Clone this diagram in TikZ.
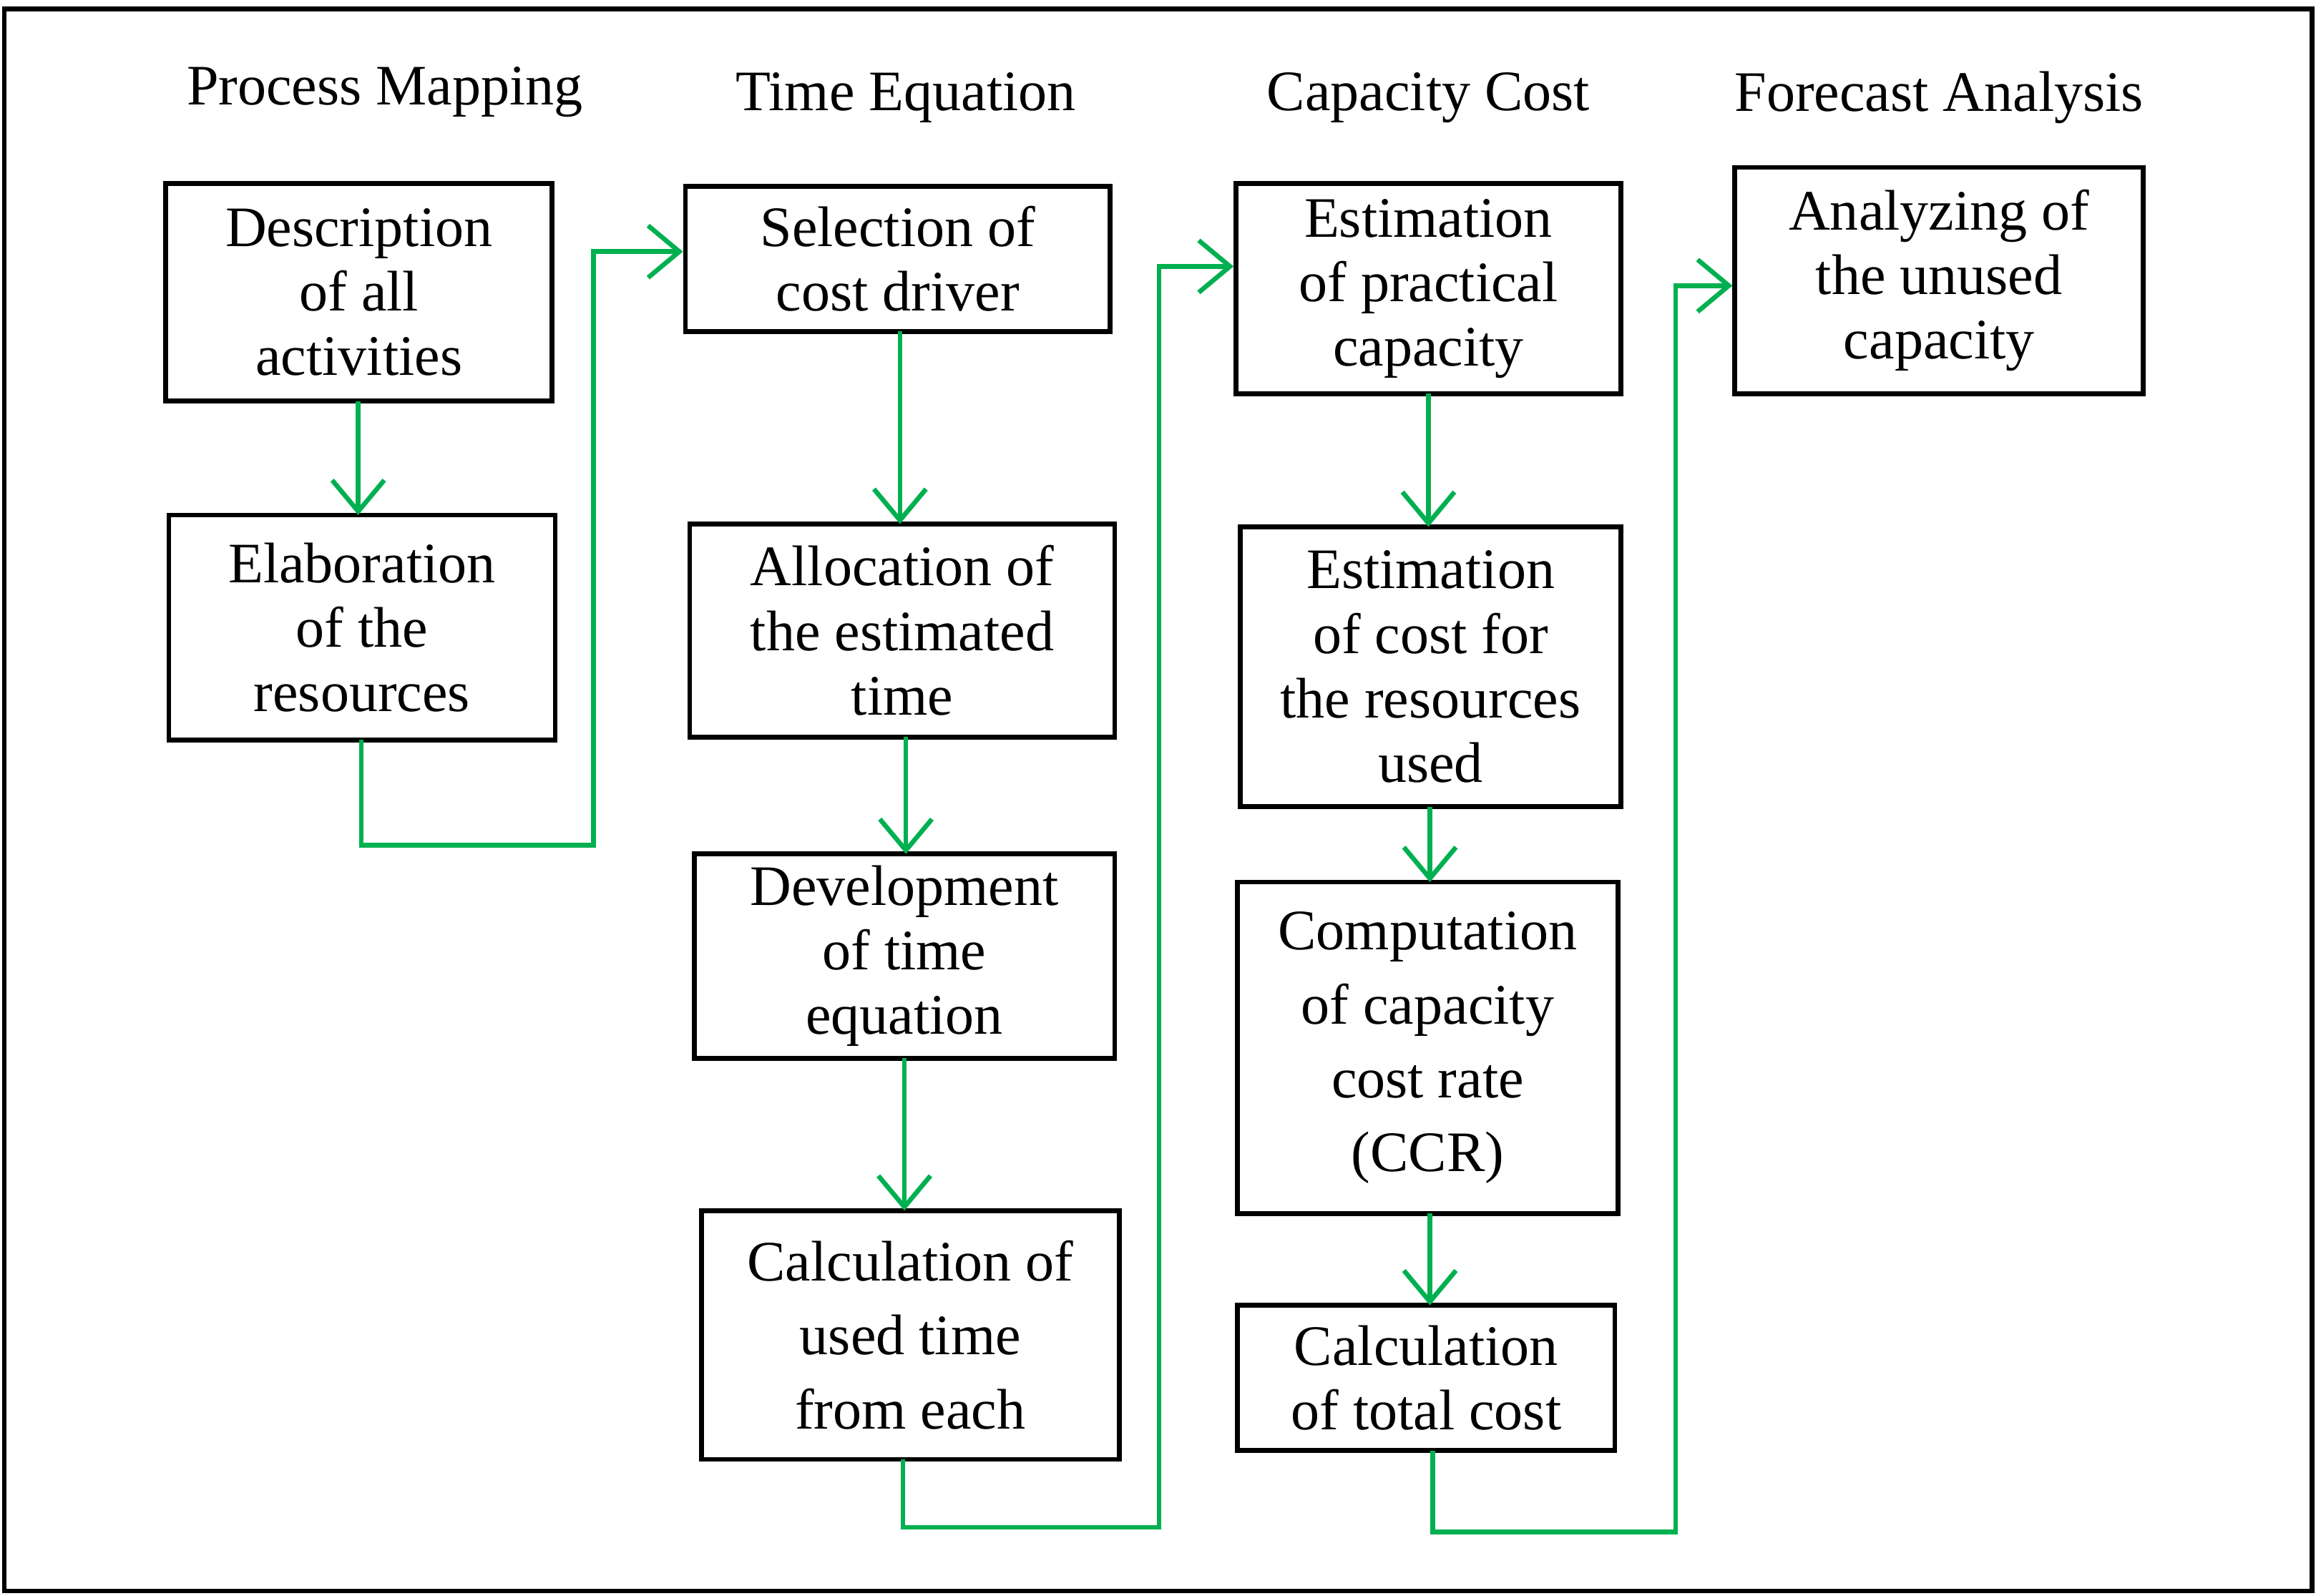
\documentclass[tikz,border=0pt]{standalone}
\usepackage{fontspec}
\setmainfont{Liberation Serif}
\usetikzlibrary{arrows.meta}
\definecolor{grn}{RGB}{0,176,80}
\begin{document}
\begin{tikzpicture}[x=0.01cm,y=-0.01cm,
 box/.style={draw,line width=0.9pt,align=center,inner sep=0pt,font=\fontsize{11}{12.4}\selectfont},
 hdr/.style={font=\fontsize{11}{13}\selectfont},
 con/.style={draw=grn,line width=0.9pt,-{Straight Barb[length=6pt,width=10pt]}}]
\useasboundingbox (0,0) rectangle (1568,1078);
\draw[line width=0.9pt] (3,6) rectangle (1562,1075);
\node[hdr] (h1) at (260,62) {Process Mapping};
\node[hdr] (h2) at (612,66) {Time Equation};
\node[hdr] (h3) at (965,66) {Capacity Cost};
\node[hdr] (h4) at (1310,66) {Forecast Analysis};
\newcommand{\bx}[6]{\node[box,minimum width={(#4-#2)*0.01cm},minimum height={(#5-#3)*0.01cm}] (#1) at ({(#2+#4)/2},{(#3+#5)/2}) {#6};}
\bx{b1}{112}{124}{373}{271}{Description\\of all\\activities}
\bx{b2}{114}{348}{375}{500}{Elaboration\\of the\\resources}
\bx{b3}{463}{126}{750}{224}{Selection of\\cost driver}
\bx{b4}{466}{354}{753}{498}{Allocation of\\the estimated\\time}
\bx{b5}{469}{577}{753}{715}{Development\\of time\\equation}
\node[box,minimum width=2.82cm,minimum height=1.68cm,font=\fontsize{11}{14.2}\selectfont] (b6) at (615,902) {Calculation of\\used time\\from each};
\bx{b7}{835}{124}{1095}{266}{Estimation\\of practical\\capacity}
\bx{b8}{838}{356}{1095}{545}{Estimation\\of cost for\\the resources\\used}
\node[box,minimum width=2.57cm,minimum height=2.24cm,font=\fontsize{11}{14.2}\selectfont] (b9) at (964.5,708) {Computation\\of capacity\\cost rate\\(CCR)};
\bx{b10}{836}{882}{1091}{980}{Calculation\\of total cost}
\bx{b11}{1172}{113}{1448}{266}{Analyzing of\\the unused\\capacity}
\coordinate (c1) at (244,571); \coordinate (c2) at (401,571); \coordinate (c3) at (401,170);
\coordinate (d1) at (610,1032); \coordinate (d2) at (783,1032); \coordinate (d3) at (783,180);
\coordinate (e1) at (968,1035); \coordinate (e2) at (1132,1035); \coordinate (e3) at (1132,193);
\draw[con] (242,271) -- (242,348);
\draw[con] (608,224) -- (608,354);
\draw[con] (612,498) -- (612,577);
\draw[con] (611,715) -- (611,818);
\draw[con] (965,266) -- (965,356);
\draw[con] (966,545) -- (966,596);
\draw[con] (966,820) -- (966,882);
\draw[con] (244,500) -- (c1) -- (c2) -- (c3) -- (b3.west |- c3);
\draw[con] (610,986) -- (d1) -- (d2) -- (d3) -- (b7.west |- d3);
\draw[con] (968,980) -- (e1) -- (e2) -- (e3) -- (b11.west |- e3);
\end{tikzpicture}
\end{document}
